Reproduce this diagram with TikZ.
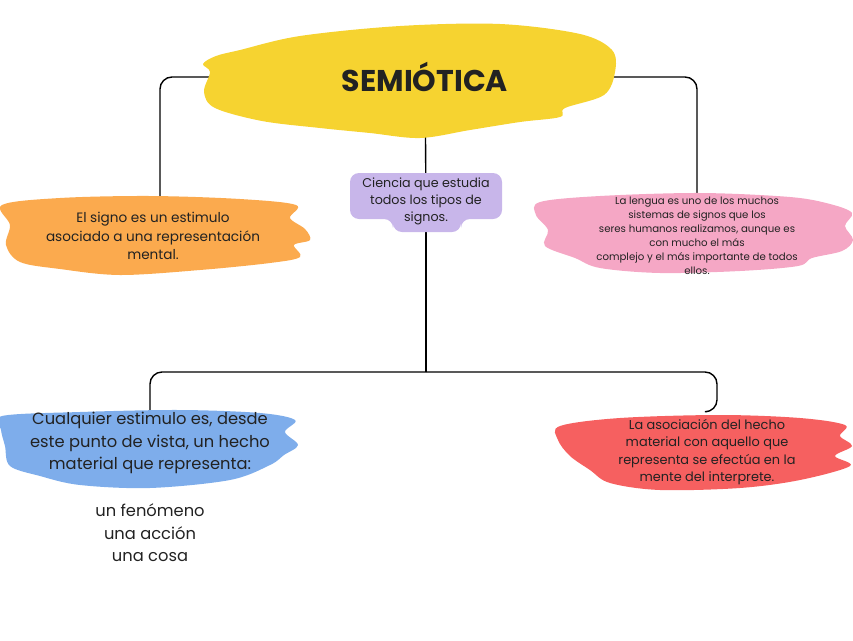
\documentclass[tikz,border=0pt]{standalone}
\usepackage{fontspec}
\setmainfont{Poppins}
\usetikzlibrary{calc}
\definecolor{yellowblob}{HTML}{F6D330}
\definecolor{orangeblob}{HTML}{FBAA4E}
\definecolor{purplebox}{HTML}{C8B6EA}
\definecolor{pinkblob}{HTML}{F5A7C5}
\definecolor{blueblob}{HTML}{7EADEB}
\definecolor{redblob}{HTML}{F66060}
\definecolor{inktext}{HTML}{222222}
\pgfdeclarelayer{lines}
\pgfdeclarelayer{blobs}
\pgfsetlayers{lines,blobs,main}

\begin{document}
\begin{tikzpicture}[x=1pt,y=-1pt,line cap=round]
\tikzstyle{conn}=[line width=1.4pt,rounded corners=12pt]
\tikzstyle{txt}=[align=center,inner sep=0pt,text=inktext]
\useasboundingbox (0,0) rectangle (853,640);
\node[txt,font=\fontsize{30}{34}\selectfont\bfseries] (semiotica) at (425,77) {SEMIÓTICA};
\node[txt,font=\fontsize{13.6}{18.5}\selectfont] (signo) at (153,236)
  {El signo es un estimulo\\asociado a una representación\\mental.};
\node[txt,font=\fontsize{12.7}{17}\selectfont] (ciencia) at (426,201)
  {Ciencia que estudia\\todos los tipos de\\signos.};
\node[txt,font=\fontsize{10.2}{14}\selectfont] (lengua) at (697,236)
  {La lengua es uno de los muchos\\sistemas de signos que los\\seres humanos realizamos, aunque es\\con mucho el más\\complejo y el más importante de todos\\ellos.};
\node[txt,font=\fontsize{16.3}{22.5}\selectfont] (estimulo) at (150,443)
  {Cualquier estimulo es, desde\\este punto de vista, un hecho\\material que representa:};
\node[txt,font=\fontsize{16.3}{22.5}\selectfont] (ejemplos) at (150,533)
  {un fenómeno\\una acción\\una cosa};
\node[txt,font=\fontsize{12.9}{17.5}\selectfont] (asoc) at (707,452)
  {La asociación del hecho\\material con aquello que\\representa se efectúa en la\\mente del interprete.};
% connectors
\begin{pgfonlayer}{lines}
\draw[conn] (semiotica) -| ([xshift=7pt]signo.north);
\draw[conn] (semiotica) -| (lengua.north);
\draw[conn] (semiotica) -- (ciencia);
\draw[conn] (ciencia) -- ++(0,171) coordinate (fork);
\draw[conn] (fork) -| (estimulo.north);
\draw[conn] (fork) -| ([xshift=10pt,yshift=7pt]asoc.north) -- ([xshift=0pt,yshift=7pt]asoc.north);
\end{pgfonlayer}
% brush strokes
\begin{pgfonlayer}{blobs}
\fill[yellowblob] plot[smooth cycle,tension=0.55] coordinates {
  (240,50) (300,36) (400,26) (500,24) (580,34) (612,50) (615,72) (604,95)
  (565,108) (560,117) (520,122) (470,130) (420,138) (370,133) (320,128)
  (262,121) (215,108) (204,92) (210,72) (203,64) (216,56)};
\fill[orangeblob] plot[smooth cycle,tension=0.55] coordinates {
  (2,205) (60,198) (150,196) (240,199) (296,205) (290,218) (305,229)
  (310,240) (294,245) (300,257) (270,263) (200,270) (120,275) (60,269)
  (20,262) (6,245) (10,225)};
\fill[purplebox,rounded corners=9pt] (350,173) -- (502,173) -- (502,219)
  -- (461,219) -- (461,232) -- (393,232) -- (393,219) -- (350,219) -- cycle;
\fill[pinkblob] plot[smooth cycle,tension=0.55] coordinates {
  (540,202) (600,196) (700,193) (790,197) (830,204) (852,213) (845,226)
  (853,240) (842,251) (812,258) (798,266) (740,271) (660,273) (600,268)
  (575,258) (545,246) (548,230) (536,215)};
\fill[blueblob] plot[smooth cycle,tension=0.55] coordinates {
  (2,416) (80,412) (180,410) (260,413) (295,420) (285,432) (298,445)
  (284,455) (270,465) (230,480) (150,488) (80,485) (40,476) (10,466)
  (5,446) (1,430)};
\fill[redblob] plot[smooth cycle,tension=0.55] coordinates {
  (560,426) (620,418) (720,415) (800,418) (845,425) (840,436) (852,446)
  (835,456) (850,466) (800,480) (740,488) (660,490) (610,483) (590,470)
  (570,456) (558,440)};
\end{pgfonlayer}
\end{tikzpicture}
\end{document}
